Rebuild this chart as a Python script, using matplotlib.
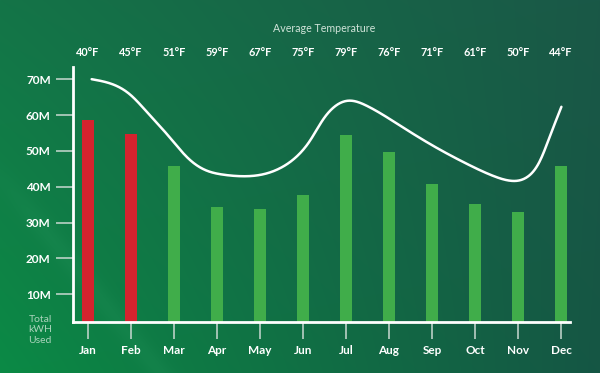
import numpy as np
import matplotlib
matplotlib.use("Agg")
import matplotlib.pyplot as plt
import matplotlib.transforms as mtransforms

months = ["Jan", "Feb", "Mar", "Apr", "May", "Jun", "Jul", "Aug", "Sep", "Oct", "Nov", "Dec"]
temps = ["40°F", "45°F", "51°F", "59°F", "67°F", "75°F", "79°F", "76°F", "71°F", "61°F", "50°F", "44°F"]
kwh_used = [58.6, 54.8, 45.7, 34.4, 33.9, 37.6, 54.4, 49.8, 40.8, 35.3, 33.1, 45.7]  # millions
# white trend line (x in month positions, y in millions)
trend_x = [0.085, 0.59, 0.98, 1.36, 1.74, 2.05, 2.36, 2.74, 3.13, 3.45, 4.0, 4.47, 4.85, 5.16,
           5.47, 5.70, 6.05, 6.48, 6.95, 7.41, 7.72, 8.03, 8.81, 9.43, 9.81, 10.2, 10.51, 10.74, 11.01]
trend_y = [70.0, 68.5, 65.7, 61.0, 56.0, 51.6, 47.6, 44.6, 43.4, 43.0, 43.3, 45.2, 48.4, 52.8,
           58.8, 62.0, 64.0, 62.6, 59.4, 55.9, 53.6, 51.4, 46.4, 43.0, 41.7, 42.6, 47.2, 54.0, 62.3]
y_ticks = [10, 20, 30, 40, 50, 60, 70]
y_labels = ["10M", "20M", "30M", "40M", "50M", "60M", "70M"]
red_months = ["Jan", "Feb"]


def natural_spline(x, y, n=600):
    # natural cubic spline through the read points (no scipy here)
    x = np.asarray(x, float)
    y = np.asarray(y, float)
    k = len(x)
    h = np.diff(x)
    A = np.zeros((k, k))
    b = np.zeros(k)
    A[0, 0] = A[-1, -1] = 1
    for i in range(1, k - 1):
        A[i, i - 1] = h[i - 1]
        A[i, i] = 2 * (h[i - 1] + h[i])
        A[i, i + 1] = h[i]
        b[i] = 6 * ((y[i + 1] - y[i]) / h[i] - (y[i] - y[i - 1]) / h[i - 1])
    m = np.linalg.solve(A, b)
    xs = np.linspace(x[0], x[-1], n)
    idx = np.clip(np.searchsorted(x, xs) - 1, 0, k - 2)
    x0, x1, hh = x[idx], x[idx + 1], h[idx]
    ys = (m[idx] * (x1 - xs) ** 3 / (6 * hh) + m[idx + 1] * (xs - x0) ** 3 / (6 * hh)
          + (y[idx] / hh - m[idx] * hh / 6) * (x1 - xs)
          + (y[idx + 1] / hh - m[idx + 1] * hh / 6) * (xs - x0))
    return xs, ys


fig = plt.figure(figsize=(6, 3.73), dpi=100)

# gradient background
bg = fig.add_axes([0, 0, 1, 1], zorder=-10)
bg.axis("off")
tl = np.array([0x14, 0x74, 0x48]) / 255
tr = np.array([0x1a, 0x58, 0x47]) / 255
bl = np.array([0x0b, 0x8a, 0x45]) / 255
br = np.array([0x15, 0x56, 0x44]) / 255
gy, gx = np.mgrid[0:1:373j, 0:1:600j]
img = (tl * ((1 - gx) * (1 - gy))[..., None] + tr * (gx * (1 - gy))[..., None]
       + bl * ((1 - gx) * gy)[..., None] + br * (gx * gy)[..., None])
# faint lighter diagonal band bottom-left
px, py = gx * 600, gy * 373
d = px - (20 + (py - 200) * 0.81)
band = np.exp(-(d / 14.0) ** 2) * np.clip((py - 150) / 80, 0, 1)
img = np.clip(img + band[..., None] * 0.02, 0, 1)
bg.imshow(img, aspect="auto", extent=[0, 1, 0, 1])
bg.set_xlim(0, 1)
bg.set_ylim(0, 1)

ax = fig.add_axes([73 / 600, 1 - 322.3 / 373, 497 / 600, 255.3 / 373])
ax.patch.set_alpha(0)

x = np.arange(len(months))
colors = ["#d4232e" if m in red_months else "#40ad4a" for m in months]
ax.bar(x, kwh_used, width=0.3, color=colors, zorder=2)

cx, cy = natural_spline(trend_x, trend_y)
ax.plot(cx, cy, color="white", lw=1.8, zorder=3, solid_capstyle="round")

ax.set_xlim(-0.349, 11.21)
ax.set_ylim(2.2, 73.4)

for s in ["top", "right"]:
    ax.spines[s].set_visible(False)
for s in ["left", "bottom"]:
    ax.spines[s].set_color("white")
    ax.spines[s].set_linewidth(2)

ax.set_yticks(y_ticks)
ax.set_yticklabels(y_labels, fontsize=8.5, fontweight="bold", color="white", family="Lato")
ax.tick_params(axis="y", length=12, width=1.1, color="#c9d9d1", pad=4)
ax.set_xticks(x)
ax.set_xticklabels(months, fontsize=8.5, fontweight="bold", color="white", family="Lato")
ax.tick_params(axis="x", length=12.5, width=1.1, color="#c9d9d1", pad=3.5)

trans = mtransforms.blended_transform_factory(ax.transData, fig.transFigure)
for i, t in enumerate(temps):
    ax.text(i, 1 - 52 / 373, t, transform=trans, ha="center", va="center",
            fontsize=7.8, fontweight="bold", color="white", family="Lato")
ax.text((x[0] + x[-1]) / 2, 1 - 28 / 373, "Average Temperature", transform=trans,
        ha="center", va="center", fontsize=7.7, color="#cfe3d8", family="Lato")

fig.text(40 / 600, 1 - 330 / 373, "Total\nkWH\nUsed", ha="center", va="center",
         fontsize=7.5, color="#a9d3bb", family="Lato", linespacing=1.2)

fig.savefig("out.png", dpi=100)
